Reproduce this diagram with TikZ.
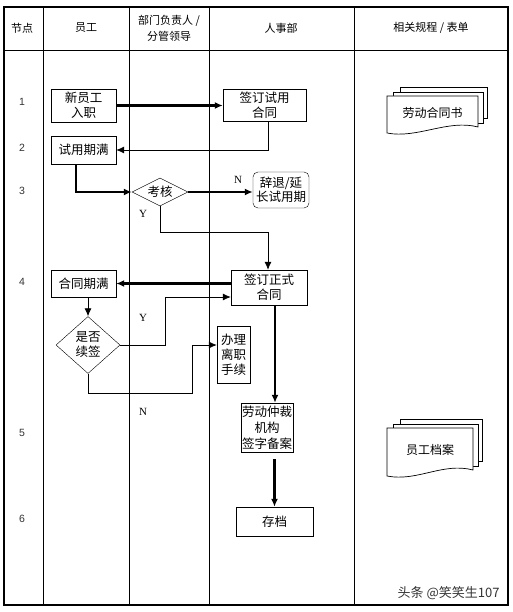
\documentclass[tikz,border=0pt]{standalone}
\usepackage{fontspec}
\setmainfont{Liberation Sans}
\newfontfamily\cjk{Noto Sans CJK SC}
\newfontfamily\lettr{Liberation Serif}
\usetikzlibrary{shapes.geometric,arrows.meta,positioning}
\tikzstyle{block} = [draw, rectangle, align=center, fill=white, inner sep=1pt, font=\cjk\fontsize{12.5}{15}\selectfont]
\tikzstyle{decide} = [draw, diamond, align=center, fill=white, inner sep=0pt, font=\cjk\fontsize{12.5}{15}\selectfont]
\tikzstyle{flow} = [-{Latex[length=8pt,width=7pt]}, line width=2.2pt]
\tikzstyle{link} = [-{Latex[length=8pt,width=7pt]}, line width=0.8pt]
\tikzstyle{tag} = [font=\lettr\fontsize{11}{13}\selectfont]
\tikzstyle{head} = [align=center, font=\cjk\fontsize{11}{16}\selectfont]
\tikzstyle{rownum} = [font=\fontsize{10.5}{12}\selectfont, text=black!80]
\tikzstyle{doctext} = [font=\cjk\fontsize{12}{14}\selectfont]
\newcommand{\docstack}[6]{%
  \draw[fill=white, line width=0.7pt] (#2+13,#3-9) rectangle (#4+9,#5-15);
  \draw[fill=white, line width=0.7pt] (#2+6,#3-4) rectangle (#4+5,#5-10);
  \draw[fill=white, line width=0.7pt] (#2,#3) -- (#4,#3) -- (#4,#5-6) .. controls (#4-30,#5-14) and (#2+30,#5+6) .. (#2,#5) -- cycle;
  \node (#1) [doctext] at ({(#2+#4)/2},{(#3+#5)/2-2}) {#6};
}

\begin{document}
\begin{tikzpicture}[x=1pt, y=-1pt]
\useasboundingbox (0,0) rectangle (513,612);
\draw[line width=1.8pt] (4,7) rectangle (508,605);
\draw[line width=0.9pt] (4,50) -- (508,50);
\foreach \cx in {43,129,209,354}
  \draw[line width=0.9pt] (\cx,7) -- (\cx,605);

\node (hnode) [head] at (22,28) {节点};
\node (hstaff) [head] at (86,28) {员工};
\node (hlead) [head] at (169,28) {部门负责人 /\\分管领导};
\node (hhr) [head] at (281,28) {人事部};
\node (hrule) [head] at (431,28) {相关规程 / 表单};

\node (r1) [rownum] at (22,102) {1};
\node (r2) [rownum] at (22,148) {2};
\node (r3) [rownum] at (22,191) {3};
\node (r4) [rownum] at (22,282) {4};
\node (r5) [rownum] at (22,433) {5};
\node (r6) [rownum] at (22,519) {6};

\node (newhire) [block, minimum width=65pt, minimum height=33pt] at (83.5,105.5) {新员工\\入职};
\node (trial) [block, minimum width=83pt, minimum height=32pt] at (264.5,105) {签订试用\\合同};
\draw [flow] (newhire.east) -- (newhire.east -| trial.west);
\node (trialend) [block, minimum width=65pt, minimum height=28pt] at (83.5,150) {试用期满};
\draw [link] ([xshift=4pt]trial.south) |- (trialend.east);
\node (assess) [decide, minimum width=56pt, minimum height=28pt, aspect=2] at (160,192) {考核};
\draw [flow] ([xshift=-7.5pt]trialend.south) |- (assess.west);
\node (dismiss) [block, rounded corners=5pt, minimum width=56pt, minimum height=36pt, font=\cjk\fontsize{12.5}{13.5}\selectfont] at (281,190) {辞退/延\\长试用期};
\draw [flow] (assess.east) -- (assess.east -| dismiss.west);
\node (tagn1) [tag] at (238,180) {N};
\node (tagy1) [tag] at (143,214) {Y};
\node (formal) [block, minimum width=76pt, minimum height=35pt] at (269,287.5) {签订正式\\合同};
\coordinate (ybend) at (160,232);
\draw [link] (assess.south) -- (ybend) -| ([xshift=-1pt]formal.north);
\node (expire) [block, minimum width=65pt, minimum height=27pt] at (83.5,283.5) {合同期满};
\draw [flow] (expire.east -| formal.west) -- (expire.east);
\node (renew) [decide, minimum width=64pt, minimum height=57pt] at (88,345) {是否\\续签};
\draw [link] (renew.north |- expire.south) -- (renew.north);
\coordinate (ybend2) at (165,297);
\draw [link] (renew.east) -| (ybend2) -- (ybend2 -| formal.west);
\node (tagy2) [tag] at (143,318) {Y};
\node (leave) [block, minimum width=33pt, minimum height=57pt] at (233.5,354.5) {办理\\离职\\手续};
\coordinate (nbend) at (192,393);
\draw [link] (renew.south) |- (nbend) |- ([yshift=9.5pt]leave.west);
\node (tagn2) [tag] at (143,412) {N};
\node (arbit) [block, minimum width=50pt, minimum height=49pt, font=\cjk\fontsize{12.5}{16}\selectfont] at (267,427.5) {劳动仲裁\\机构\\签字备案};
\draw [flow] ([xshift=6pt]formal.south) -- ([xshift=6pt]formal.south |- arbit.north);
\node (archive) [block, minimum width=77pt, minimum height=29pt] at (274.5,521.5) {存档};
\draw [flow, shorten <=7pt] (arbit.south -| archive.north) -- (archive.north);

\docstack{contract}{387}{96}{478}{133}{劳动合同书}
\docstack{files}{387}{428}{473}{476}{员工档案}

\node (mark) [anchor=east, text=black!80, font=\cjk\fontsize{13}{15}\selectfont] at (503,593) {头条 @笑笑生107};
\end{tikzpicture}
\end{document}
